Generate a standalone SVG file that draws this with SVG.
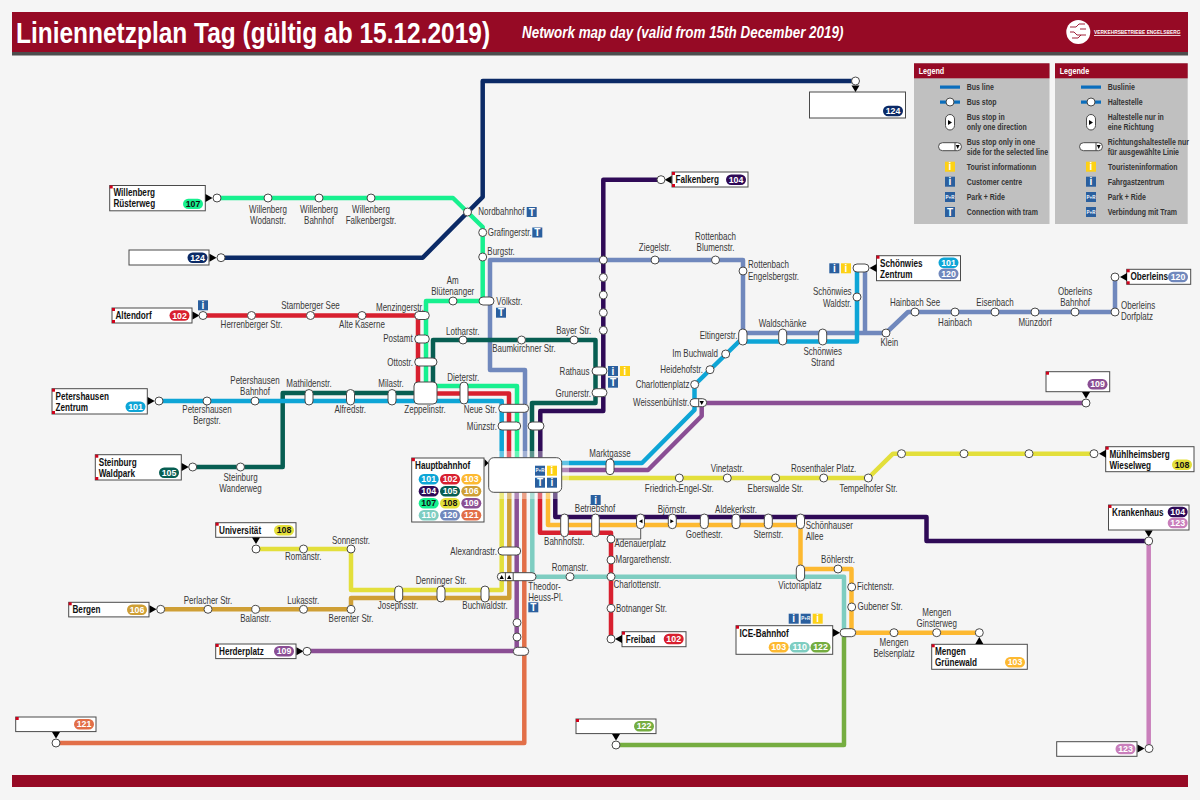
<svg xmlns="http://www.w3.org/2000/svg" width="1200" height="800" viewBox="0 0 1200 800">
<style>
text{font-family:"Liberation Sans",Arial,sans-serif;font-size:10px;fill:#383838;transform-box:fill-box;transform-origin:0% 50%;transform:scaleX(.8)}
.m{text-anchor:middle;transform-origin:50% 50%}.e{text-anchor:end;transform-origin:100% 50%}
.t{font-weight:bold;font-size:10.2px;fill:#111}
.lg{font-weight:bold;font-size:9px;fill:#333;transform:scaleX(.775)}
.bt{font-weight:bold;font-size:8.8px;fill:#fff;text-anchor:middle;transform:none}
.bk{fill:#111}
.nx{transform:none}
.box{fill:#fff;stroke:#4a4a4a;stroke-width:1}
.r{fill:#d0021b}
.a{fill:#000}
.s{fill:#fff;stroke:#4a4a4a;stroke-width:1}
.p{fill:#fff;stroke:#4a4a4a;stroke-width:1}
.l{fill:none;stroke-width:4.5;stroke-linejoin:round}
.ib{fill:#2a5f9e}.iy{fill:#fdd116}
.ic{font-weight:bold;font-size:10px;fill:#fff;text-anchor:middle;transform:none}
.ip{font-weight:bold;font-size:4.5px;fill:#fff;text-anchor:middle;transform:none}
.b101{fill:#0ea5d6}.b102{fill:#d8202f}.b103{fill:#fdb931}.b104{fill:#2f0a57}.b105{fill:#075e52}.b106{fill:#cf9f35}.b107{fill:#17f08f}.b108{fill:#e3df3b}.b109{fill:#8a4e94}.b110{fill:#7ecdc1}.b120{fill:#7088bd}.b121{fill:#e26f48}.b122{fill:#75ad40}.b123{fill:#c97fbb}.b124{fill:#0b2a66}
</style>
<rect width="1200" height="800" fill="#f5f5f5"/>
<g id="header">
<rect x="12" y="52" width="1176" height="3.5" fill="#4d4d4d"/>
<rect x="12" y="12" width="1176" height="40" fill="#960a25"/>
<text x="16" y="43" style="font-weight:bold;font-size:29px;fill:#fff;transform:scaleX(.844)">Liniennetzplan Tag (gültig ab 15.12.2019)</text>
<text x="522" y="38" style="font-weight:bold;font-style:italic;font-size:16.5px;fill:#fff;transform:scaleX(.814)">Network map day (valid from 15th December 2019)</text>
<circle cx="1078.3" cy="32" r="12" fill="#fff"/>
<path d="M1070 27h6l3-3h6M1070 32h4l3 3h9M1072 38h6l3-3M1080 29h6" fill="none" stroke="#960a25" stroke-width=".9"/>
<text class="nx" x="1094" y="34" textLength="86.5" lengthAdjust="spacingAndGlyphs" style="font-weight:bold;font-size:5.6px;fill:#fff">VERKEHRSBETRIEBE ENGELSBERG</text>
<rect x="1094" y="35" width="86.5" height=".8" fill="#fff"/>
</g>
<rect id="footer" x="12" y="775" width="1176" height="12" fill="#960a25"/>
<g id="legend-en">
<rect x="914" y="63.3" width="135.5" height="160.7" fill="#c0c0c0"/>
<rect x="914" y="63.3" width="135.5" height="15" fill="#960a25"/>
<text x="918.7" y="74" style="font-weight:bold;font-size:9px;fill:#fff">Legend</text>
<rect x="940" y="85.5" width="20" height="3.2" fill="#0a6ebd"/><text class="lg" x="966.7" y="90">Bus line</text>
<rect x="940" y="100.5" width="20" height="3.2" fill="#0a6ebd"/><circle class="s" cx="950" cy="102" r="4"/><text class="lg" x="966.7" y="105">Bus stop</text>
<rect class="p" x="945.5" y="114.5" width="9" height="15.5" rx="4.5"/><path class="a" d="M948 120l4 2.5l-4 2.5z"/><text class="lg" x="966.7" y="120.3">Bus stop in</text><text class="lg" x="966.7" y="130">only one direction</text>
<rect class="p" x="938.5" y="142.7" width="23" height="8" rx="4"/><path d="M955 142.7v8" stroke="#4a4a4a" fill="none"/><path class="a" d="M955.8 145l3.8 0l-1.9 4z"/><text class="lg" x="966.7" y="145.3">Bus stop only in one</text><text class="lg" x="966.7" y="155">side for the selected line</text>
<rect class="iy" x="945" y="161.7" width="10" height="10"/><text class="ic" x="950" y="170.3">i</text><text class="lg" x="966.7" y="169.7">Tourist informationın</text>
<rect class="ib" x="945" y="176.7" width="10" height="10"/><text class="ic" x="950" y="185.3">i</text><text class="lg" x="966.7" y="184.7">Customer centre</text>
<rect class="ib" x="945" y="192" width="10" height="10"/><text class="ip" x="950" y="198.7">P+R</text><text class="lg" x="966.7" y="200">Park + Ride</text>
<rect class="ib" x="945" y="207" width="10" height="10"/><text class="ic" x="950" y="215.6">T</text><text class="lg" x="966.7" y="215">Connection with tram</text>
</g>
<g id="legend-de">
<rect x="1055" y="63.3" width="132.7" height="160.7" fill="#c0c0c0"/>
<rect x="1055" y="63.3" width="132.7" height="15" fill="#960a25"/>
<text x="1059.7" y="74" style="font-weight:bold;font-size:9px;fill:#fff">Legende</text>
<rect x="1081" y="85.5" width="20" height="3.2" fill="#0a6ebd"/><text class="lg" x="1107.7" y="90">Buslinie</text>
<rect x="1081" y="100.5" width="20" height="3.2" fill="#0a6ebd"/><circle class="s" cx="1091" cy="102" r="4"/><text class="lg" x="1107.7" y="105">Haltestelle</text>
<rect class="p" x="1086.5" y="114.5" width="9" height="15.5" rx="4.5"/><path class="a" d="M1089 120l4 2.5l-4 2.5z"/><text class="lg" x="1107.7" y="120.3">Haltestelle nur in</text><text class="lg" x="1107.7" y="130">eine Richtung</text>
<rect class="p" x="1079.5" y="142.7" width="23" height="8" rx="4"/><path d="M1096 142.7v8" stroke="#4a4a4a" fill="none"/><path class="a" d="M1096.8 145l3.8 0l-1.9 4z"/><text class="lg" x="1107.7" y="145.3">Richtungshaltestelle nur</text><text class="lg" x="1107.7" y="155">für ausgewählte Linie</text>
<rect class="iy" x="1086" y="161.7" width="10" height="10"/><text class="ic" x="1091" y="170.3">i</text><text class="lg" x="1108" y="169.7">Touristeninformation</text>
<rect class="ib" x="1086" y="176.7" width="10" height="10"/><text class="ic" x="1091" y="185.3">i</text><text class="lg" x="1107.7" y="184.7">Fahrgastzentrum</text>
<rect class="ib" x="1086" y="192" width="10" height="10"/><text class="ip" x="1091" y="198.7">P+R</text><text class="lg" x="1107.7" y="200">Park + Ride</text>
<rect class="ib" x="1086" y="207" width="10" height="10"/><text class="ip" x="1091" y="213.7">P+R</text><text class="lg" x="1107.7" y="215">Verbindung mit Tram</text>
</g>
<g id="connectors">
<path class="l" stroke="#0b2a66" d="M221 257.7H422.7L482.7 197V81H855"/>
<path class="l" stroke="#17f08f" d="M217 198H453L482.7 227V301H426V386H517V458"/>
<path class="l" stroke="#7088bd" d="M1115 277V312H908L886 333H743V260H490V370H525V458M865 333V268"/>
<path class="l" stroke="#d8202f" d="M203 315.5H418V393.5H509V458M540 492V532.7H611V639"/>
<path class="l" stroke="#075e52" d="M192.7 467H282.7V393H433V340H595.5V403H532V458"/>
<path class="l" stroke="#0ea5d6" d="M159 401H501.7V458M560 463H642L694.5 410V385L739 341.5H857V268"/>
<path class="l" stroke="#8a4e94" d="M560 470H648L701.7 416V403H1086M516.7 492V651H307"/>
<path class="l" stroke="#e3df3b" d="M560 478H868.3L893 453.7H1094M501.7 492V590H351V549H256"/>
<path class="l" stroke="#cf9f35" d="M509.3 492V598H351V609.3H160.7"/>
<path class="l" stroke="#e26f48" stroke-width="4" d="M524.3 492V743H56"/>
<path class="l" stroke="#7ecdc1" d="M532.3 492V576.7H844V632"/>
<path class="l" stroke="#75ad40" d="M844 632V745H616"/>
<path class="l" stroke="#fdb931" d="M548 492V525H800.5V572M800.5 569H851.5V632.7M840 632.7H979.3"/>
<path class="l" stroke="#c97fbb" stroke-width="4" d="M1148.7 541V748"/>
<path class="l" stroke="#2f0a57" d="M661 179.7H603.3V411H540.3V458M555.3 492V517H926.5V541H1148.7"/>
<path d="M640.7 528V539H616" fill="none" stroke="#555" stroke-width="1"/>
<rect x="497" y="451" width="48" height="7" fill="#fff" opacity=".35"/>
<rect x="497" y="492" width="62" height="7" fill="#fff" opacity=".35"/>
<rect x="561" y="459" width="8" height="22" fill="#fff" opacity=".35"/>
</g>
<g id="n-hauptbahnhof">
<rect class="p" x="488.7" y="457.7" width="73" height="34.6" rx="5"/>
<rect class="ib" x="535" y="465.7" width="10" height="10"/><text class="ip" x="540" y="472.4">P+R</text>
<rect class="iy" x="547" y="465.7" width="10" height="10"/><text class="ic" x="552" y="474.3">i</text>
<rect class="ib" x="535" y="477.7" width="10" height="10"/><text class="ic" x="540" y="486.3">T</text>
<rect class="ib" x="547" y="477.7" width="10" height="10"/><text class="ic" x="552" y="486.3">i</text>
<path class="a" d="M484.5 459l4 4l-4 4z"/>
<rect class="box" x="411.7" y="458" width="72.3" height="64"/><rect class="r" x="411.7" y="458" width="3.2" height="3.2"/>
<text class="t" x="415" y="469.5">Hauptbahnhof</text>
<rect class="b101" x="418.7" y="474" width="20" height="10.4" rx="5.2"/><text class="bt" x="428.7" y="482.2">101</text>
<rect class="b102" x="440" y="474" width="20" height="10.4" rx="5.2"/><text class="bt" x="450" y="482.2">102</text>
<rect class="b103" x="461.3" y="474" width="20" height="10.4" rx="5.2"/><text class="bt" x="471.3" y="482.2">103</text>
<rect class="b104" x="418.7" y="486" width="20" height="10.4" rx="5.2"/><text class="bt" x="428.7" y="494.2">104</text>
<rect class="b105" x="440" y="486" width="20" height="10.4" rx="5.2"/><text class="bt" x="450" y="494.2">105</text>
<rect class="b106" x="461.3" y="486" width="20" height="10.4" rx="5.2"/><text class="bt" x="471.3" y="494.2">106</text>
<rect class="b107" x="418.7" y="498" width="20" height="10.4" rx="5.2"/><text class="bt bk" x="428.7" y="506.2">107</text>
<rect class="b108" x="440" y="498" width="20" height="10.4" rx="5.2"/><text class="bt bk" x="450" y="506.2">108</text>
<rect class="b109" x="461.3" y="498" width="20" height="10.4" rx="5.2"/><text class="bt" x="471.3" y="506.2">109</text>
<rect class="b110" x="418.7" y="510" width="20" height="10.4" rx="5.2"/><text class="bt" x="428.7" y="518.2">110</text>
<rect class="b120" x="440" y="510" width="20" height="10.4" rx="5.2"/><text class="bt" x="450" y="518.2">120</text>
<rect class="b121" x="461.3" y="510" width="20" height="10.4" rx="5.2"/><text class="bt" x="471.3" y="518.2">121</text>
</g>
<g id="t-willenberg"><rect class="box" x="109.7" y="185.5" width="95.6" height="25.3"/><rect class="r" x="109.7" y="185.5" width="3" height="3"/><text class="t" x="113.5" y="196.5">Willenberg</text><text class="t" x="113.5" y="207.5">Rüsterweg</text><rect class="b107" x="183" y="198.7" width="20" height="10.4" rx="5.2"/><text class="bt bk" x="193" y="206.9">107</text><path class="a" d="M205.5 194l7 4l-7 4z"/><circle class="s" cx="217" cy="198" r="4"/></g>
<g id="t-124a"><rect class="box" x="129" y="250" width="80" height="15"/><rect class="b124" x="187.5" y="252.5" width="20" height="10.4" rx="5.2"/><text class="bt" x="197.5" y="260.7">124</text><path class="a" d="M209.5 253.7l7 4l-7 4z"/><circle class="s" cx="221" cy="257.7" r="4"/></g>
<g id="t-124b"><rect class="box" x="809.5" y="92" width="96" height="26"/><rect class="b124" x="883" y="105.8" width="20" height="10.4" rx="5.2"/><text class="bt" x="893" y="114">124</text><path class="a" d="M851.5 85.5h8l-4 6.5z"/><circle class="s" cx="855.5" cy="81" r="4"/></g>
<g id="t-altendorf"><rect class="box" x="112" y="308" width="80" height="15"/><rect class="r" x="112" y="308" width="3" height="3"/><rect class="r" x="112" y="320" width="3" height="3"/><text class="t" x="115.5" y="319">Altendorf</text><rect class="b102" x="169.5" y="310.3" width="20" height="10.4" rx="5.2"/><text class="bt" x="179.5" y="318.5">102</text><path class="a" d="M192.5 311.5l7 4l-7 4z"/><circle class="s" cx="203" cy="315.5" r="4"/><rect class="ib" x="198" y="300.3" width="10" height="10"/><text class="ic" x="203" y="309">i</text></g>
<g id="t-petershausen"><rect class="box" x="52" y="388.7" width="95.3" height="25.3"/><rect class="r" x="52" y="388.7" width="3" height="3"/><rect class="r" x="52" y="411" width="3" height="3"/><text class="t" x="55.5" y="399.7">Petershausen</text><text class="t" x="55.5" y="410.7">Zentrum</text><rect class="b101" x="125.5" y="401.5" width="20" height="10.4" rx="5.2"/><text class="bt" x="135.5" y="409.7">101</text><path class="a" d="M147.7 397l7 4l-7 4z"/><circle class="s" cx="159" cy="401" r="4"/></g>
<g id="t-steinburg"><rect class="box" x="95.3" y="454.7" width="86" height="25.3"/><rect class="r" x="95.3" y="454.7" width="3" height="3"/><rect class="r" x="95.3" y="477" width="3" height="3"/><text class="t" x="98.7" y="465.7">Steinburg</text><text class="t" x="98.7" y="476.7">Waldpark</text><rect class="b105" x="159" y="467.5" width="20" height="10.4" rx="5.2"/><text class="bt" x="169" y="475.7">105</text><path class="a" d="M181.7 463l7 4l-7 4z"/><circle class="s" cx="192.7" cy="467" r="4"/></g>
<g id="t-falkenberg"><rect class="box" x="672" y="172" width="76" height="15"/><rect class="r" x="672" y="172" width="3" height="3"/><rect class="r" x="672" y="184" width="3" height="3"/><text class="t" x="675.5" y="183.3">Falkenberg</text><rect class="b104" x="726" y="174.5" width="20" height="10.4" rx="5.2"/><text class="bt" x="736" y="182.7">104</text><path class="a" d="M671.7 175.7l-7 4l7 4z"/><circle class="s" cx="661" cy="179.7" r="4"/></g>
<g id="t-schoenwies"><rect class="box" x="876.5" y="255.7" width="84" height="25"/><rect class="r" x="876.5" y="255.7" width="3" height="3"/><text class="t" x="880" y="266.7">Schönwies</text><text class="t" x="880" y="277.7">Zentrum</text><rect class="b101" x="938.5" y="257.5" width="20" height="10.4" rx="5.2"/><text class="bt" x="948.5" y="265.7">101</text><rect class="b120" x="938.5" y="268.5" width="20" height="10.4" rx="5.2"/><text class="bt" x="948.5" y="276.7">120</text><path class="a" d="M876.5 264l-7 4l7 4z"/><rect class="p" x="853" y="264" width="16" height="8" rx="4"/><rect class="ib" x="829.3" y="263.3" width="10" height="10"/><text class="ic" x="834.3" y="272">i</text><rect class="iy" x="841" y="263.3" width="10" height="10"/><text class="ic" x="846" y="272">i</text></g>
<g id="t-oberleins"><rect class="box" x="1126.7" y="269.3" width="64" height="15"/><rect class="r" x="1126.7" y="269.3" width="3" height="3"/><rect class="r" x="1126.7" y="281.3" width="3" height="3"/><text class="t" x="1130.5" y="280.5">Oberleins</text><rect class="b120" x="1168" y="271.8" width="20" height="10.4" rx="5.2"/><text class="bt" x="1178" y="280">120</text><path class="a" d="M1127 273l-7 4l7 4z"/><circle class="s" cx="1115" cy="277" r="4"/></g>
<g id="t-109e"><rect class="box" x="1046" y="371.7" width="63.7" height="20"/><rect class="r" x="1046" y="371.7" width="3" height="3"/><rect class="b109" x="1087.5" y="379" width="20" height="10.4" rx="5.2"/><text class="bt" x="1097.5" y="387.2">109</text><path class="a" d="M1082 392h8l-4 6.5z"/><circle class="s" cx="1086" cy="403" r="4"/></g>
<g id="t-muehlheimsberg"><rect class="box" x="1105.7" y="446.7" width="88.3" height="25"/><rect class="r" x="1105.7" y="446.7" width="3" height="3"/><text class="t" x="1109.5" y="457.7">Mühlheimsberg</text><text class="t" x="1109.5" y="468.7">Wieselweg</text><rect class="b108" x="1172" y="459.5" width="20" height="10.4" rx="5.2"/><text class="bt bk" x="1182" y="467.7">108</text><path class="a" d="M1106 449.7l-7 4l7 4z"/><circle class="s" cx="1094" cy="453.7" r="4"/></g>
<g id="t-krankenhaus"><rect class="box" x="1108.5" y="505" width="80.5" height="25"/><rect class="r" x="1108.5" y="505" width="3" height="3"/><text class="t" x="1112" y="515.7">Krankenhaus</text><rect class="b104" x="1167.7" y="506.8" width="20" height="10.4" rx="5.2"/><text class="bt" x="1177.7" y="515">104</text><rect class="b123" x="1167.7" y="517.8" width="20" height="10.4" rx="5.2"/><text class="bt" x="1177.7" y="526">123</text><path class="a" d="M1144.7 530.5h8l-4 6.5z"/><circle class="s" cx="1148.7" cy="541" r="4"/></g>
<g id="t-123"><rect class="box" x="1056.7" y="741.7" width="80.3" height="14.6"/><rect class="b123" x="1115.5" y="743.8" width="20" height="10.4" rx="5.2"/><text class="bt" x="1125.5" y="752">123</text><path class="a" d="M1137.5 744.5l7 4l-7 4z"/><circle class="s" cx="1149" cy="748.5" r="4"/></g>
<g id="t-universitaet"><rect class="box" x="215.7" y="522.7" width="80.3" height="14.6"/><rect class="r" x="215.7" y="522.7" width="3" height="3"/><text class="t" x="219" y="534">Universität</text><rect class="b108" x="274" y="525" width="20" height="10.4" rx="5.2"/><text class="bt bk" x="284" y="533.2">108</text><path class="a" d="M252 537.5h8l-4 6.5z"/><circle class="s" cx="256" cy="549" r="4"/></g>
<g id="t-bergen"><rect class="box" x="68.7" y="602.3" width="80.3" height="14.6"/><rect class="r" x="68.7" y="602.3" width="3" height="3"/><text class="t" x="72.5" y="613.5">Bergen</text><rect class="b106" x="127" y="604.5" width="20" height="10.4" rx="5.2"/><text class="bt" x="137" y="612.7">106</text><path class="a" d="M149.5 605.3l7 4l-7 4z"/><circle class="s" cx="160.7" cy="609.3" r="4"/></g>
<g id="t-herderplatz"><rect class="box" x="215.7" y="644" width="80.3" height="14.6"/><rect class="r" x="215.7" y="644" width="3" height="3"/><text class="t" x="219" y="655.3">Herderplatz</text><rect class="b109" x="274" y="646.1" width="20" height="10.4" rx="5.2"/><text class="bt" x="284" y="654.3">109</text><path class="a" d="M296.5 647.3l7 4l-7 4z"/><circle class="s" cx="307" cy="651.3" r="4"/></g>
<g id="t-121"><rect class="box" x="15.7" y="717" width="80.3" height="14.6"/><rect class="r" x="15.7" y="717" width="3" height="3"/><rect class="b121" x="74" y="719" width="20" height="10.4" rx="5.2"/><text class="bt" x="84" y="727.2">121</text><path class="a" d="M52 732h8l-4 6.5z"/><circle class="s" cx="56" cy="743" r="4"/></g>
<g id="t-122"><rect class="box" x="576" y="719" width="80" height="14.6"/><rect class="r" x="576" y="719" width="3" height="3"/><rect class="b122" x="634" y="721" width="20" height="10.4" rx="5.2"/><text class="bt" x="644" y="729.2">122</text><path class="a" d="M612 734h8l-4 6.5z"/><circle class="s" cx="616" cy="745" r="4"/></g>
<g id="t-freibad"><rect class="box" x="622" y="631.7" width="64" height="15"/><rect class="r" x="622" y="631.7" width="3" height="3"/><text class="t" x="625.7" y="642.7">Freibad</text><rect class="b102" x="663.7" y="633.8" width="20" height="10.4" rx="5.2"/><text class="bt" x="673.7" y="642">102</text><path class="a" d="M622 635l-7 4l7 4z"/><circle class="s" cx="611" cy="639" r="4"/></g>
<g id="t-ice"><rect class="box" x="736" y="625.7" width="96.7" height="28.6"/><rect class="r" x="736" y="625.7" width="3" height="3"/><text class="t" x="739.5" y="636.7">ICE-Bahnhof</text><rect class="b103" x="768.7" y="642" width="20" height="10.4" rx="5.2"/><text class="bt" x="778.7" y="650.2">103</text><rect class="b110" x="789.7" y="642" width="20" height="10.4" rx="5.2"/><text class="bt" x="799.7" y="650.2">110</text><rect class="b122" x="810.5" y="642" width="20" height="10.4" rx="5.2"/><text class="bt" x="820.5" y="650.2">122</text><path class="a" d="M833 628.7l7 4l-7 4z"/><rect class="p" x="840" y="628.7" width="15.7" height="8" rx="4"/><rect class="ib" x="788.7" y="613.7" width="10" height="10"/><text class="ic" x="793.7" y="622.4">i</text><rect class="ib" x="800.7" y="613.7" width="10" height="10"/><text class="ip" x="805.7" y="620.4">P+R</text><rect class="iy" x="812.7" y="613.7" width="10" height="10"/><text class="ic" x="817.7" y="622.4">i</text></g>
<g id="t-mengen"><rect class="box" x="931.7" y="644.3" width="95.6" height="25"/><rect class="r" x="931.7" y="644.3" width="3" height="3"/><text class="t" x="935" y="655.3">Mengen</text><text class="t" x="935" y="666.3">Grünewald</text><rect class="b103" x="1005" y="657" width="20" height="10.4" rx="5.2"/><text class="bt" x="1015" y="665.2">103</text><path class="a" d="M975.3 644l4-7l4 7z"/><circle class="s" cx="979.3" cy="632.7" r="4"/></g>
<g id="stops-107">
<g id="n-wodanstr"><circle class="s" cx="268" cy="198" r="4"/><text class="m" x="268" y="213.5">Willenberg<tspan x="268" dy="11">Wodanstr.</tspan></text></g>
<g id="n-wbahnhof"><circle class="s" cx="319" cy="198" r="4"/><text class="m" x="319" y="213.5">Willenberg<tspan x="319" dy="11">Bahnhof</tspan></text></g>
<g id="n-falkenbergstr"><circle class="s" cx="371" cy="198" r="4"/><text class="m" x="371" y="213.5">Willenberg<tspan x="371" dy="11">Falkenbergstr.</tspan></text></g>
<g id="n-nordbahnhof"><circle class="s" cx="467.5" cy="212" r="4"/><text x="478.3" y="215.5">Nordbahnhof</text><rect class="ib" x="526.7" y="207" width="10" height="10"/><text class="ic" x="531.7" y="215.6">T</text></g>
<g id="n-grafingerstr"><circle class="s" cx="482.7" cy="232.5" r="4"/><text x="487.7" y="236.5">Grafingerstr.</text><rect class="ib" x="532.3" y="227.5" width="10" height="10"/><text class="ic" x="537.3" y="236.1">T</text></g>
<g id="n-burgstr"><circle class="s" cx="482.7" cy="257" r="4"/><text x="487.3" y="255">Burgstr.</text></g>
<g id="n-bluetenanger"><circle class="s" cx="453" cy="301" r="4"/><text class="m" x="452.7" y="284">Am<tspan x="452.7" dy="11">Blütenanger</tspan></text></g>
<g id="n-voelkstr"><rect class="p" x="479" y="297" width="15" height="8" rx="4"/><text x="496.3" y="305">Völkstr.</text><rect class="ib" x="496" y="307.7" width="10" height="10"/><text class="ic" x="501" y="316.3">T</text></g>
</g>
<g id="stops-102">
<g id="n-herrenberger"><circle class="s" cx="251.5" cy="315.5" r="4"/><text class="m" x="251.5" y="328">Herrenberger Str.</text></g>
<g id="n-starnberger"><circle class="s" cx="310.5" cy="315.5" r="4"/><text class="m" x="310.5" y="309.5">Starnberger See</text></g>
<g id="n-altekaserne"><circle class="s" cx="362" cy="315.5" r="4"/><text class="m" x="362" y="328">Alte Kaserne</text></g>
<g id="n-menzingerstr"><rect class="p" x="414.7" y="311.5" width="14.6" height="8" rx="4"/><text x="376" y="311">Menzingerstr.</text></g>
<g id="n-postamt"><rect class="p" x="414.7" y="335" width="14.6" height="8" rx="4"/><text class="e" x="412.5" y="342.5">Postamt</text></g>
<g id="n-ottostr"><rect class="p" x="414.7" y="358" width="22.3" height="8" rx="4"/><text class="e" x="413" y="366">Ottostr.</text></g>
<g id="n-zeppelinstr"><rect class="p" x="414" y="382" width="23" height="22" rx="4"/><text class="m" x="425" y="413">Zeppelinstr.</text></g>
<g id="n-dieterstr"><rect class="p" x="460" y="382" width="8" height="22" rx="4"/><text class="m" x="463.3" y="381">Dieterstr.</text></g>
<g id="n-neuestr"><rect class="p" x="498.7" y="404.3" width="30" height="8" rx="4"/><text class="e" x="497" y="413">Neue Str.</text></g>
<g id="n-muenzstr"><rect class="p" x="498" y="422" width="22.7" height="8" rx="4"/><rect class="p" x="528" y="422" width="16" height="8" rx="4"/><text class="e" x="497" y="430">Münzstr.</text></g>
</g>
<g id="stops-101">
<g id="n-bergstr"><circle class="s" cx="207" cy="401" r="4"/><text class="m" x="207" y="413">Petershausen<tspan x="207" dy="11.5">Bergstr.</tspan></text></g>
<g id="n-pbahnhof"><circle class="s" cx="255" cy="401" r="4"/><text class="m" x="255" y="384">Petershausen<tspan x="255" dy="11">Bahnhof</tspan></text></g>
<g id="n-wanderweg"><circle class="s" cx="240.5" cy="467" r="4"/><text class="m" x="240.5" y="481">Steinburg<tspan x="240.5" dy="11">Wanderweg</tspan></text></g>
<g id="n-mathildenstr"><rect class="p" x="305" y="389.5" width="8" height="15.5" rx="4"/><text class="m" x="309" y="387.5">Mathildenstr.</text></g>
<g id="n-alfredstr"><rect class="p" x="346.5" y="389.5" width="8" height="15.5" rx="4"/><text class="m" x="350.3" y="413">Alfredstr.</text></g>
<g id="n-milastr"><rect class="p" x="388" y="389.5" width="8" height="15.5" rx="4"/><text class="m" x="391" y="387.5">Milastr.</text></g>
<g id="n-lotharstr"><circle class="s" cx="463" cy="340" r="4"/><text class="m" x="462.7" y="335.5">Lotharstr.</text></g>
<g id="n-baumkirchner"><circle class="s" cx="521.5" cy="340" r="4"/><text class="m" x="524" y="352.5">Baumkirchner Str.</text></g>
<g id="n-bayerstr"><circle class="s" cx="574" cy="340" r="4"/><text class="m" x="573.7" y="334">Bayer Str.</text></g>
<g id="n-rathaus"><rect class="p" x="592" y="367" width="15" height="8" rx="4"/><text class="e" x="589.3" y="375">Rathaus</text><rect class="ib" x="608" y="366" width="10" height="10"/><text class="ic" x="613" y="374.6">i</text><rect class="iy" x="620" y="366" width="10" height="10"/><text class="ic" x="625" y="374.6">i</text><rect class="ib" x="608" y="377.7" width="10" height="10"/><text class="ic" x="613" y="386.3">T</text></g>
<g id="n-grunerstr"><rect class="p" x="592" y="388.7" width="15" height="8" rx="4"/><text class="e" x="591" y="397">Grunerstr.</text></g>
<circle class="s" cx="603.3" cy="260" r="4"/><circle class="s" cx="603.3" cy="277.5" r="4"/><circle class="s" cx="603.3" cy="295" r="4"/><circle class="s" cx="603.3" cy="312.7" r="4"/><circle class="s" cx="603.3" cy="330.3" r="4"/>
</g>
<g id="stops-120">
<g id="n-ziegelstr"><circle class="s" cx="655" cy="260" r="4"/><text class="m" x="655" y="251.5">Ziegelstr.</text></g>
<g id="n-blumenstr"><circle class="s" cx="715.5" cy="260" r="4"/><text class="m" x="715.5" y="240">Rottenbach<tspan x="715.5" dy="11.5">Blumenstr.</tspan></text></g>
<g id="n-engelsbergstr"><circle class="s" cx="743" cy="271" r="4"/><text x="748" y="268.5">Rottenbach<tspan x="748" dy="11.5">Engelsbergstr.</tspan></text></g>
<g id="n-eltingerstr"><rect class="p" x="738.7" y="329" width="8.3" height="16" rx="4"/><text class="e" x="737.5" y="339">Eltingerstr.</text></g>
<g id="n-waldschaenke"><rect class="p" x="778.7" y="329" width="8" height="16" rx="4"/><text class="m" x="782.7" y="327">Waldschänke</text></g>
<g id="n-strand"><rect class="p" x="818.7" y="329" width="8" height="16" rx="4"/><text class="m" x="822.7" y="355.5">Schönwies<tspan x="822.7" dy="10.8">Strand</tspan></text></g>
<g id="n-waldstr"><circle class="s" cx="857" cy="297" r="4"/><text class="e" x="851.5" y="295.5">Schönwies<tspan x="851.5" dy="11.5">Waldstr.</tspan></text></g>
<g id="n-klein"><circle class="s" cx="886" cy="333" r="4"/><text class="m" x="889.3" y="346">Klein</text></g>
<g id="n-hainbachsee"><circle class="s" cx="915" cy="312" r="4"/><text class="m" x="915" y="306">Hainbach See</text></g>
<g id="n-hainbach"><circle class="s" cx="955" cy="312" r="4"/><text class="m" x="955" y="326">Hainbach</text></g>
<g id="n-eisenbach"><circle class="s" cx="995" cy="312" r="4"/><text class="m" x="995" y="306">Eisenbach</text></g>
<g id="n-muenzdorf"><circle class="s" cx="1035" cy="312" r="4"/><text class="m" x="1035" y="326">Münzdorf</text></g>
<g id="n-obahnhof"><circle class="s" cx="1075" cy="312" r="4"/><text class="m" x="1075" y="295">Oberleins<tspan x="1075" dy="11">Bahnhof</tspan></text></g>
<g id="n-dorfplatz"><circle class="s" cx="1115" cy="312" r="4"/><text x="1121" y="309.5">Oberleins<tspan x="1121" dy="11">Dorfplatz</tspan></text></g>
<g id="n-buchwald"><circle class="s" cx="725.7" cy="354" r="4"/><text class="e" x="718" y="357.5">Im Buchwald</text></g>
<g id="n-heidehof"><circle class="s" cx="710" cy="369.7" r="4"/><text class="e" x="703" y="373.5">Heidehofstr.</text></g>
<g id="n-charlottenplatz"><circle class="s" cx="694.7" cy="384.5" r="4"/><text class="e" x="689.3" y="388">Charlottenplatz</text></g>
<g id="n-weissenbuehl"><rect class="p" x="690" y="398.7" width="16.7" height="8" rx="4"/><path d="M698.7 398.7v8" stroke="#4a4a4a" fill="none"/><path class="a" d="M699.5 401l4.4 0l-2.2 4z"/><text class="e" x="689.3" y="406">Weissenbühlstr.</text></g>
</g>
<g id="stops-108">
<g id="n-marktgasse"><rect class="p" x="606" y="459" width="8" height="15.7" rx="4"/><text class="m" x="610" y="457">Marktgasse</text></g>
<g id="n-friedrich"><circle class="s" cx="679.3" cy="478" r="4"/><text class="m" x="679.3" y="492">Friedrich-Engel-Str.</text></g>
<g id="n-vinetastr"><circle class="s" cx="727.3" cy="478" r="4"/><text class="m" x="727.3" y="472.5">Vinetastr.</text></g>
<g id="n-eberswalde"><circle class="s" cx="775.6" cy="478" r="4"/><text class="m" x="775.6" y="492">Eberswalde Str.</text></g>
<g id="n-rosenthaler"><circle class="s" cx="823.7" cy="478" r="4"/><text class="m" x="823.7" y="472.5">Rosenthaler Platz.</text></g>
<g id="n-tempelhofer"><circle class="s" cx="868.3" cy="478" r="4"/><text class="m" x="868.5" y="492">Tempelhofer Str.</text></g>
<circle class="s" cx="901.5" cy="453.7" r="4"/><circle class="s" cx="964" cy="453.7" r="4"/><circle class="s" cx="1029" cy="453.7" r="4"/>
</g>
<g id="stops-103">
<g id="n-bahnhofstr"><rect class="p" x="560.7" y="514" width="7.6" height="22.7" rx="3.8"/><text class="m" x="564.3" y="545">Bahnhofstr.</text></g>
<g id="n-betriebshof"><rect class="p" x="591.7" y="514" width="7.6" height="22.7" rx="3.8"/><text class="m" x="595" y="512.5">Betriebshof</text><rect class="ib" x="590.7" y="495" width="10" height="10"/><text class="ic" x="595.7" y="503.6">i</text></g>
<g id="n-links"><rect class="p" x="636.5" y="514" width="8" height="14.7" rx="4"/><path class="a" d="M642.5 519.3v4l-3.5-2z"/></g>
<g id="n-bjoernstr"><rect class="p" x="668.3" y="514" width="8" height="14.7" rx="4"/><path class="a" d="M670.3 519.3v4l3.5-2z"/><text class="m" x="672.3" y="513">Björnstr.</text></g>
<g id="n-goethestr"><rect class="p" x="700.3" y="514" width="8" height="14.7" rx="4"/><text class="m" x="704.3" y="538.5">Goethestr.</text></g>
<g id="n-aldekerk"><rect class="p" x="732" y="514" width="8" height="14.7" rx="4"/><text class="m" x="736" y="513">Aldekerkstr.</text></g>
<g id="n-sternstr"><rect class="p" x="764.3" y="514" width="8" height="14.7" rx="4"/><text class="m" x="768.3" y="538.5">Sternstr.</text></g>
<g id="n-schoenhauser"><rect class="p" x="796.5" y="514" width="8" height="14.7" rx="4"/><text x="805.7" y="529.5">Schönhauser<tspan x="805.7" dy="11">Allee</tspan></text></g>
<g id="n-victoriaplatz"><rect class="p" x="796.3" y="565" width="8.3" height="16" rx="4"/><text class="m" x="800" y="589">Victoriaplatz</text></g>
<g id="n-boehlerstr"><circle class="s" cx="838" cy="569" r="4"/><text class="m" x="838" y="563">Böhlerstr.</text></g>
<g id="n-fichtenstr"><circle class="s" cx="851.7" cy="587" r="4"/><text x="857" y="590.5">Fichtenstr.</text></g>
<g id="n-gubener"><circle class="s" cx="851.7" cy="607" r="4"/><text x="857.5" y="610.5">Gubener Str.</text></g>
<g id="n-belsenplatz"><circle class="s" cx="894" cy="632.7" r="4"/><text class="m" x="894" y="646.5">Mengen<tspan x="894" dy="11">Belsenplatz</tspan></text></g>
<g id="n-ginsterweg"><circle class="s" cx="936.7" cy="632.7" r="4"/><text class="m" x="936.7" y="616">Mengen<tspan x="936.7" dy="11">Ginsterweg</tspan></text></g>
<g id="n-adenauer"><circle class="s" cx="611" cy="539" r="4"/><text x="614.5" y="547">Adenauerplatz</text></g>
<g id="n-margarethen"><circle class="s" cx="611" cy="560" r="4"/><text x="615.5" y="563.5">Margarethenstr.</text></g>
<g id="n-charlottenstr"><circle class="s" cx="611" cy="576.7" r="4"/><text x="613.5" y="588">Charlottenstr.</text></g>
<g id="n-botnanger"><circle class="s" cx="611" cy="608.3" r="4"/><text x="616" y="612">Botnanger Str.</text></g>
<g id="n-romanstr"><circle class="s" cx="570" cy="576.7" r="4"/><text class="m" x="570" y="571">Romanstr.</text></g>
</g>
<g id="stops-south">
<g id="n-alexandrastr"><rect class="p" x="498" y="547" width="22.7" height="8" rx="4"/><text class="e" x="497" y="555">Alexandrastr.</text></g>
<g id="n-theodor"><rect class="p" x="497.3" y="572.7" width="38.7" height="8" rx="4"/><path d="M505.4 572.7v8M513.2 572.7v8" stroke="#4a4a4a" fill="none"/><path class="a" d="M499.5 579l2.2-4l2.2 4zM507 579l2.2-4l2.2 4z"/><text x="528.3" y="590">Theodor-<tspan x="528.3" dy="11">Heuss-Pl.</tspan></text><rect class="ib" x="528.3" y="602.3" width="10" height="10"/><text class="ic" x="533.3" y="611">T</text></g>
<g id="n-buchwaldstr"><rect class="p" x="481" y="586" width="8" height="16" rx="4"/><text class="m" x="485" y="609.5">Buchwaldstr.</text></g>
<g id="n-denninger"><rect class="p" x="437" y="586" width="8" height="16" rx="4"/><text class="m" x="441.3" y="584.5">Denninger Str.</text></g>
<g id="n-josephsstr"><rect class="p" x="394.7" y="586" width="8" height="16" rx="4"/><text class="m" x="398" y="609.5">Josephsstr.</text></g>
<g id="n-berenter"><circle class="s" cx="351" cy="609.3" r="4"/><text class="m" x="351" y="622">Berenter Str.</text></g>
<g id="n-lukasstr"><circle class="s" cx="303.5" cy="609.3" r="4"/><text class="m" x="303.3" y="604.5">Lukasstr.</text></g>
<g id="n-balanstr"><circle class="s" cx="255.7" cy="609.3" r="4"/><text class="m" x="255.7" y="622">Balanstr.</text></g>
<g id="n-perlacher"><circle class="s" cx="208" cy="609.3" r="4"/><text class="m" x="208" y="604.5">Perlacher Str.</text></g>
<g id="n-romanstr2"><circle class="s" cx="303.5" cy="549" r="4"/><text class="m" x="303.3" y="560">Romanstr.</text></g>
<g id="n-sonnenstr"><circle class="s" cx="351" cy="549" r="4"/><text class="m" x="351" y="544">Sonnenstr.</text></g>
<circle class="s" cx="517" cy="622.7" r="4"/><circle class="s" cx="517" cy="637" r="4"/>
<rect class="p" x="513.3" y="647.3" width="15.4" height="8" rx="4"/>
</g>
</svg>
